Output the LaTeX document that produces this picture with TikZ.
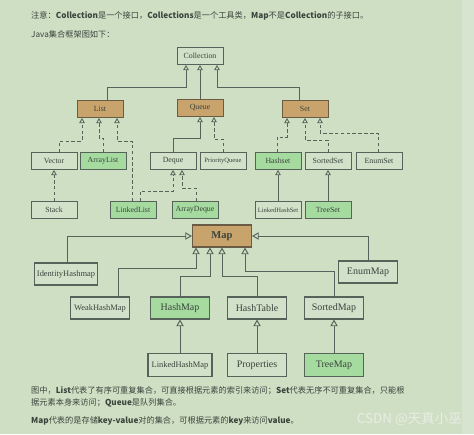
\documentclass[tikz,border=0pt]{standalone}
\usepackage{fontspec}
\setmainfont{Liberation Serif}
\newfontfamily\cjk{Noto Sans CJK SC}
\usetikzlibrary{arrows.meta,calc}
\definecolor{bgc}{HTML}{CFDFC4}
\definecolor{stripc}{HTML}{D6E4D0}
\definecolor{boxc}{HTML}{D2E1CA}
\definecolor{edgec}{HTML}{56625A}
\definecolor{tanc}{HTML}{C9A36C}
\definecolor{tanedge}{HTML}{6A5C44}
\definecolor{greenc}{HTML}{A6DBA0}
\definecolor{inkc}{HTML}{3A443C}
\definecolor{markc}{HTML}{E8EDE5}

\begin{document}
\begin{tikzpicture}[x=0.3mm,y=-0.3mm]
\tikzstyle{cls}=[draw=edgec,fill=boxc,line width=0.7pt,minimum width=13.8mm,minimum height=5.1mm,inner sep=0pt,text=inkc,font=\fontsize{6.7}{7}\selectfont]
\tikzstyle{iface}=[cls,fill=tanc,draw=tanedge]
\tikzstyle{concrete}=[cls,fill=greenc]
\tikzstyle{mapcls}=[cls,line width=0.9pt,minimum width=17.7mm,minimum height=6.6mm,font=\fontsize{8.5}{9}\selectfont]
\tikzstyle{ext}=[draw=edgec,line width=0.7pt,-{Triangle[open,length=1.6mm,width=1.7mm]}]
\tikzstyle{imp}=[ext,dash pattern=on 3pt off 2pt]
\tikzstyle{bigext}=[ext,line width=0.8pt,-{Triangle[open,length=2mm,width=2.2mm]}]
\tikzstyle{txt}=[anchor=west,inner sep=0pt,text=inkc,font=\cjk\fontsize{7}{8}\selectfont]

\fill[bgc] (0,0) rectangle (474,434);
\fill[stripc] (462,0) rectangle (474,434);

\node[txt] (note) at (31,16) {注意：\textbf{Collection}是一个接口，\textbf{Collections}是一个工具类，\textbf{Map}不是\textbf{Collection}的子接口。};
\node[txt] (intro) at (31,34) {Java集合框架图如下：};

% Collection part
\node[cls] (Collection) at (200,56) {Collection};
\node[iface] (List) at (100,109) {List};
\node[iface] (Queue) at (200,108) {Queue};
\node[iface] (Set) at (305,109) {Set};

\node[cls] (Vector) at (54,161) {Vector};
\node[concrete] (ArrayList) at (103,161) {ArrayList};
\node[cls] (Deque) at (173,161) {Deque};
\node[cls,font=\fontsize{5.6}{6}\selectfont] (PriorityQueue) at (223,161) {PriorityQueue};
\node[concrete] (Hashset) at (278,161) {Hashset};
\node[cls] (SortedSet) at (328,161) {SortedSet};
\node[cls] (EnumSet) at (379,161) {EnumSet};

\node[cls] (Stack) at (54,210) {Stack};
\node[concrete] (LinkedList) at (133,210) {LinkedList};
\node[concrete] (ArrayDeque) at (195,210) {ArrayDeque};
\node[cls,font=\fontsize{5.6}{6}\selectfont] (LinkedHashSet) at (278,210) {LinkedHashSet};
\node[concrete] (TreeSet) at (328,210) {TreeSet};

\draw[ext] ($(List.north)+(7,0)$) -- ++(0,-13) -| ($(Collection.south)+(-14,0)$);
\draw[ext] (Queue.north) -- (Collection.south);
\draw[ext] ($(Set.north)+(-6,0)$) -- ++(0,-13) -| ($(Collection.south)+(17,0)$);

\draw[imp] ($(Vector.north)+(5,0)$) -- ++(0,-11) -| ($(List.south)+(-18,0)$);
\draw[imp] (ArrayList.north) -- ++(0,-14) -| ($(List.south)+(-1,0)$);
\draw[imp] ($(LinkedList.north)+(-1,0)$) -- ++(0,-60) -| ($(List.south)+(17,0)$);
\draw[imp] (Stack.north) -- (Vector.south);

\draw[ext] (Deque.north) -- ++(0,-14) -| (Queue.south);
\draw[imp] (PriorityQueue.north) -- ++(0,-13) -| ($(Queue.south)+(14,0)$);
\draw[imp] ($(LinkedList.north)+(7,0)$) -- ++(0,-10) -| (Deque.south);
\draw[imp] ($(ArrayDeque.north)+(1,0)$) -- ++(0,-13) -| ($(Deque.south)+(9,0)$);

\draw[imp] ($(Hashset.north)+(-1,0)$) -- ++(0,-15) -| ($(Set.south)+(-18,0)$);
\draw[imp] (SortedSet.north) -- ++(0,-12) -| (Set.south);
\draw[imp] ($(EnumSet.north)+(-1,0)$) -- ++(0,-19) -| ($(Set.south)+(15,0)$);
\draw[ext] (LinkedHashSet.north) -- (Hashset.south);
\draw[ext] (TreeSet.north) -- (SortedSet.south);

% Map part
\node[mapcls,iface,line width=0.9pt,minimum width=17.7mm,minimum height=6.6mm,font=\bfseries\fontsize{9}{10}\selectfont] (Map) at (222,236) {Map};
\node[mapcls,minimum width=18.9mm,font=\fontsize{7.2}{8}\selectfont] (IdentityHashmap) at (66,274) {IdentityHashmap};
\node[mapcls] (EnumMap) at (368,272) {EnumMap};
\node[mapcls,font=\fontsize{7.2}{8}\selectfont] (WeakHashMap) at (100,308) {WeakHashMap};
\node[mapcls,fill=greenc] (HashMap) at (180,308) {HashMap};
\node[mapcls] (HashTable) at (257,308) {HashTable};
\node[mapcls] (SortedMap) at (334,308) {SortedMap};
\node[mapcls,minimum width=19.2mm,minimum height=6.9mm,font=\fontsize{7.2}{8}\selectfont] (LinkedHashMap) at (180,365) {LinkedHashMap};
\node[mapcls,minimum height=6.9mm] (Properties) at (257,365) {Properties};
\node[mapcls,fill=greenc,minimum height=6.9mm] (TreeMap) at (334,365) {TreeMap};

\draw[bigext] ($(IdentityHashmap.north)+(1,0)$) |- (Map.west);
\draw[bigext] ($(WeakHashMap.north)+(18,0)$) -- ++(0,-28) -| ($(Map.south)+(-26,0)$);
\draw[bigext] (HashMap.north) -- ++(0,-20) -| ($(Map.south)+(-12,0)$);
\draw[bigext] (HashTable.north) -- ++(0,-20) -| (Map.south);
\draw[bigext] (SortedMap.north) -- ++(0,-25) -| ($(Map.south)+(23,0)$);
\draw[bigext] (EnumMap.north) |- (Map.east);
\draw[bigext] (LinkedHashMap.north) -- (HashMap.south);
\draw[bigext] (Properties.north) -- (HashTable.south);
\draw[bigext] (TreeMap.north) -- (SortedMap.south);

\node[txt] (desc) at (31,391) {图中，\textbf{List}代表了有序可重复集合，可直接根据元素的索引来访问；\textbf{Set}代表无序不可重复集合，只能根};
\node[txt] (desc2) at (31,403) {据元素本身来访问；\textbf{Queue}是队列集合。};
\node[txt] (desc3) at (31,421) {\textbf{Map}代表的是存储\textbf{key-value}对的集合，可根据元素的\textbf{key}来访问\textbf{value}。};
\node[anchor=east,inner sep=0pt,text=markc,font=\cjk\fontsize{11.5}{12}\selectfont] (mark) at (462,419) {CSDN @天真小巫};
\end{tikzpicture}
\end{document}
